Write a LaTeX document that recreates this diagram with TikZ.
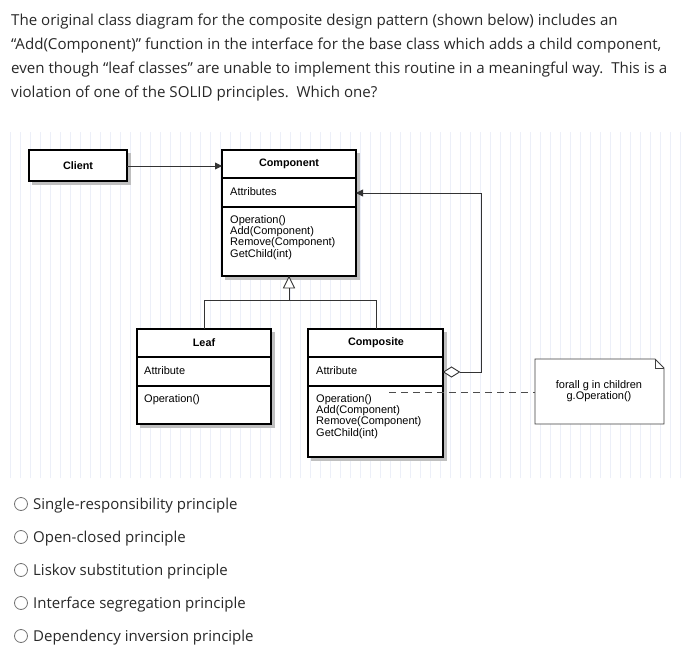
\documentclass[tikz,border=0pt]{standalone}
\usepackage{fontspec}
\setmainfont{Open Sans}
\newfontfamily\arial{Liberation Sans}
\usetikzlibrary{arrows.meta,shapes.geometric}
\definecolor{gridc}{RGB}{236,239,248}
\definecolor{txt}{RGB}{40,40,40}
\tikzset{
  q/.style={anchor=base west,inner sep=0,font=\fontsize{15.1}{16}\selectfont,text=txt},
  d/.style={anchor=north west,inner sep=0,font=\arial\fontsize{11}{11.3}\selectfont,align=left},
  dh/.style={inner sep=0,font=\arial\bfseries\fontsize{10.8}{12}\selectfont},
  box/.style={draw=black,line width=1.4pt},
  sh/.style={fill=black!25,draw=none},
  ln/.style={draw=black!80,line width=0.9pt},
  opt/.style={anchor=base west,inner sep=0,font=\fontsize{15}{16}\selectfont,text=txt},
  rad/.style={draw=black!55,line width=0.8pt}
}
\begin{document}
\begin{tikzpicture}[x=1pt,y=-1pt]
\useasboundingbox (0,0) rectangle (697,672);
\fill[white] (0,0) rectangle (697,672);
\node[q] (l1) at (11,25) {The original class diagram for the composite design pattern (shown below) includes an};
\node[q] (l2) at (11,49) {“Add(Component)” function in the interface for the base class which adds a child component,};
\node[q] (l3) at (11,73) {even though “leaf classes” are unable to implement this routine in a meaningful way.\ \ This is a};
\node[q] (l4) at (11,97) {violation of one of the SOLID principles.\ \ Which one?};
% grid
\fill[white] (10,132) rectangle (684,478);
\draw[gridc,line width=0.5pt,step=10] (10,132) grid (684,478);
% shadows
\fill[sh] (32,153) rectangle (131,185);
\fill[sh] (225,153) rectangle (360,280);
\fill[sh] (140,332) rectangle (275,428);
\fill[sh] (311,332) rectangle (447,461);
% Client
\draw[box,fill=white] (29,150) rectangle (127,181);
\node[dh] (client) at (78,166) {Client};
\coordinate (cr) at (127,166);
% Component
\draw[box,fill=white] (222,150) rectangle (356,276);
\draw[box] (222,178) -- (356,178); \draw[box] (222,207) -- (356,207);
\node[dh] (comp) at (289,164) {Component};
\node[d] (compa) at (230,187) {Attributes};
\node[d] (compo) at (230,215) {Operation()\\Add(Component)\\Remove(Component)\\GetChild(int)};
\coordinate (cl) at (222,166);
\coordinate (cattr) at (356,193);
\coordinate (cb) at (289,276);
% Leaf
\draw[box,fill=white] (137,329) rectangle (271,424);
\draw[box] (137,357) -- (271,357); \draw[box] (137,386) -- (271,386);
\node[dh] (leaf) at (204,343) {Leaf};
\node[d] (leafa) at (144,366) {Attribute};
\node[d] (leafo) at (144,394) {Operation()};
% Composite
\draw[box,fill=white] (308,329) rectangle (443,457);
\draw[box] (308,357) -- (443,357); \draw[box] (308,386) -- (443,386);
\node[dh] (compos) at (376,343) {Composite};
\node[d] (cosa) at (316,366) {Attribute};
\node[d] (coso) at (316,394) {Operation()\\Add(Component)\\Remove(Component)\\GetChild(int)};
% Note
\draw[black!75,line width=0.9pt,fill=white] (535,359) -- (655,359) -- (664,368) -- (664,424) -- (535,424) -- cycle;
\draw[black!75,line width=0.8pt] (655,359) -- (655,368) -- (664,368);
\node[inner sep=0,font=\arial\fontsize{11}{11.5}\selectfont,align=center] (note) at (599,391) {forall g in children\\g.Operation()};
% connectors
\draw[ln,-{Triangle[length=7pt,width=7pt]}] (cr) -- (cl);
\draw[ln,fill=white] (289,276.7) -- (283.5,288) -- (294.5,288) -- cycle;
\draw[ln] (289,288) -- (289,300) -- (204,300) -- (204,329);
\draw[ln] (289,300) -- (376,300) -- (376,329);
\draw[ln,-{Triangle[length=7pt,width=7pt]}] (460,372) -- (481,372) -- (481,193) -- (cattr);
\draw[ln,fill=white] (443.7,372) -- (451.5,367) -- (459.5,372) -- (451.5,377) -- cycle;
\draw[black!70,line width=1pt,dash pattern=on 7pt off 5pt] (389,392) -- (535,392);
% options
\foreach \y/\t [count=\i] in {504/Single-responsibility principle,537/Open-closed principle,570/Liskov substitution principle,603/Interface segregation principle,636/Dependency inversion principle}{
  \draw[rad,fill=white] (21,\y) circle (6.5);
  \node[opt] (o\i) at (33,\y+5) {\t};
}
\end{tikzpicture}
\end{document}
